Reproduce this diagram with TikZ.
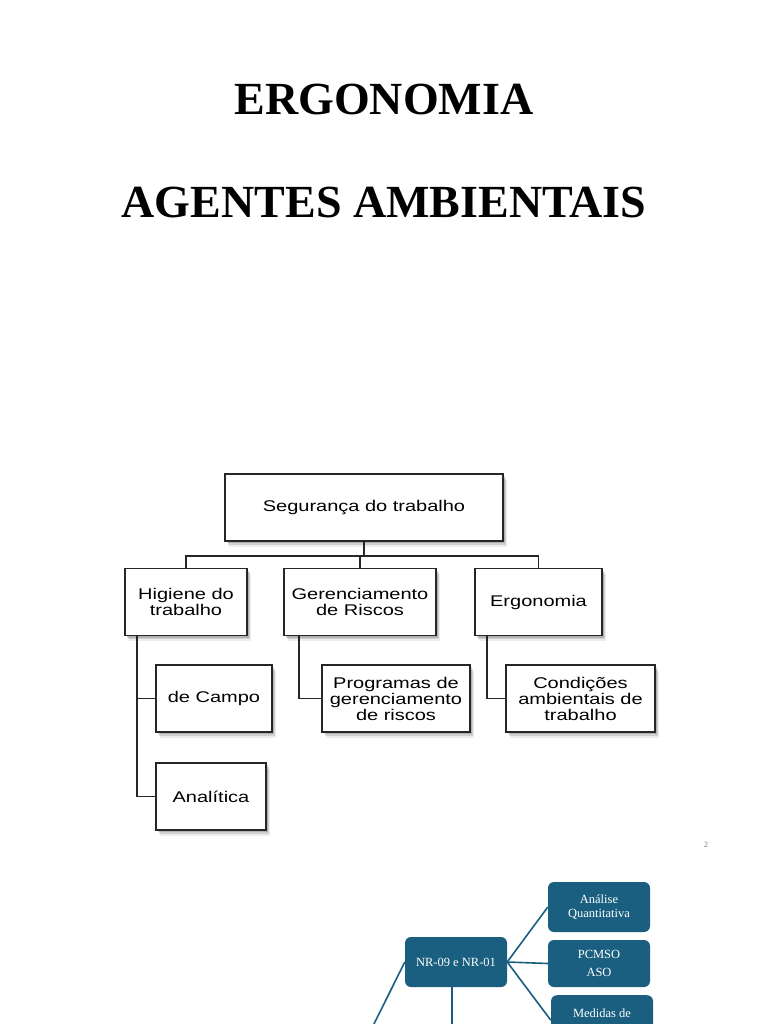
\documentclass[tikz,border=0pt]{standalone}
\usepackage{fontspec}
\setmainfont{Liberation Serif}
\newfontfamily\boxfont[FakeStretch=1.29]{Liberation Sans}
\usetikzlibrary{shadows, positioning}
\definecolor{nrteal}{HTML}{1A5F80}
\tikzset{
    softshadow/.style={general shadow={shadow xshift=4pt, shadow yshift=-5.5pt, fill=black, opacity=0.07},
                       general shadow={shadow xshift=2.5pt, shadow yshift=-3.5pt, fill=black, opacity=0.12},
                       general shadow={shadow xshift=1.5pt, shadow yshift=-2pt, fill=black, opacity=0.15}},
    box/.style={rectangle, draw=black!85, line width=1.8pt, fill=white, minimum height=67pt, inner sep=0pt, align=center, font=\boxfont\fontsize{15.5}{16}\selectfont, softshadow},
    link/.style={line width=1.8pt, black!85},
    nrbox/.style={rectangle, rounded corners=6pt, fill=nrteal, text=white, inner sep=0pt, minimum width=102pt, minimum height=50pt, align=center, font=\fontsize{12.5}{14}\selectfont},
    nrlink/.style={line width=1.6pt, nrteal},
    title/.style={font=\fontsize{46}{46}\selectfont\bfseries, anchor=base},
}

\begin{document}
\begin{tikzpicture}[x=1pt, y=-1pt]

\useasboundingbox (0, 0) rectangle (768, 1024);
\fill[white] (0, 0) rectangle (768, 1024);

% Titles
\node[title] (ergo) at (384, 115) {ERGONOMIA};
\node[title] (agentes) at (384, 218) {AGENTES AMBIENTAIS};

% ── Organogram ──
\node[box, minimum width=278pt] (seg) at (364, 507.5) {Segurança do trabalho};
\node[box, minimum width=122pt] (hig) at (186, 602) {Higiene do\\trabalho};
\node[box, minimum width=152pt] (ger) at (360, 602) {Gerenciamento\\de Riscos};
\node[box, minimum width=127pt] (erg) at (538.5, 602) {Ergonomia};

\node[box, minimum width=116pt] (cam) at (214, 698.5) {de Campo};
\node[box, minimum width=110pt] (ana) at (211, 796.5) {Analítica};
\node[box, minimum width=148pt] (prg) at (396, 698.5) {Programas de\\gerenciamento\\de riscos};
\node[box, minimum width=149pt] (cnd) at (580.5, 698.5) {Condições\\ambientais de\\trabalho};

\coordinate (bar) at (0, 556);
\draw[link] (seg.south) -- (seg.south |- bar);
\draw[link] (hig.north) -- (hig.north |- bar) -| (erg.north);
\draw[link] (ger.north) -- (ger.north |- bar);

\coordinate (higl) at ([xshift=13pt]hig.south west);
\coordinate (gerl) at ([xshift=16pt]ger.south west);
\coordinate (ergl) at ([xshift=13pt]erg.south west);
\draw[link] (higl) |- (ana.west);
\draw[link] (higl |- cam.west) -- (cam.west);
\draw[link] (gerl) |- (prg.west);
\draw[link] (ergl) |- (cnd.west);

% Page number
\node[font=\fontsize{8}{8}\selectfont, text=black!55] (pg) at (706, 845) {2};

% ── NR tree ──
\node[nrbox] (nr) at (456, 962) {NR-09 e NR-01};
\node[nrbox] (qtd) at (599, 907) {Análise\\Quantitativa};
\node[nrbox, minimum height=47pt] (pcm) at (599, 963.5) {PCMSO\\[4pt]ASO};
\node[nrbox, anchor=north] (med) at (602, 995) {Medidas de\\\phantom{M}};

\coordinate (root) at (356, 1060);
\coordinate (down) at (452, 1060);
\draw[nrlink] (nr.east) -- (qtd.west);
\draw[nrlink] (nr.east) -- (pcm.west);
\draw[nrlink] (nr.east) -- (med.west);
\draw[nrlink] (root) -- (nr.west);
\draw[nrlink] (nr.south -| down) -- (down);

\end{tikzpicture}
\end{document}
